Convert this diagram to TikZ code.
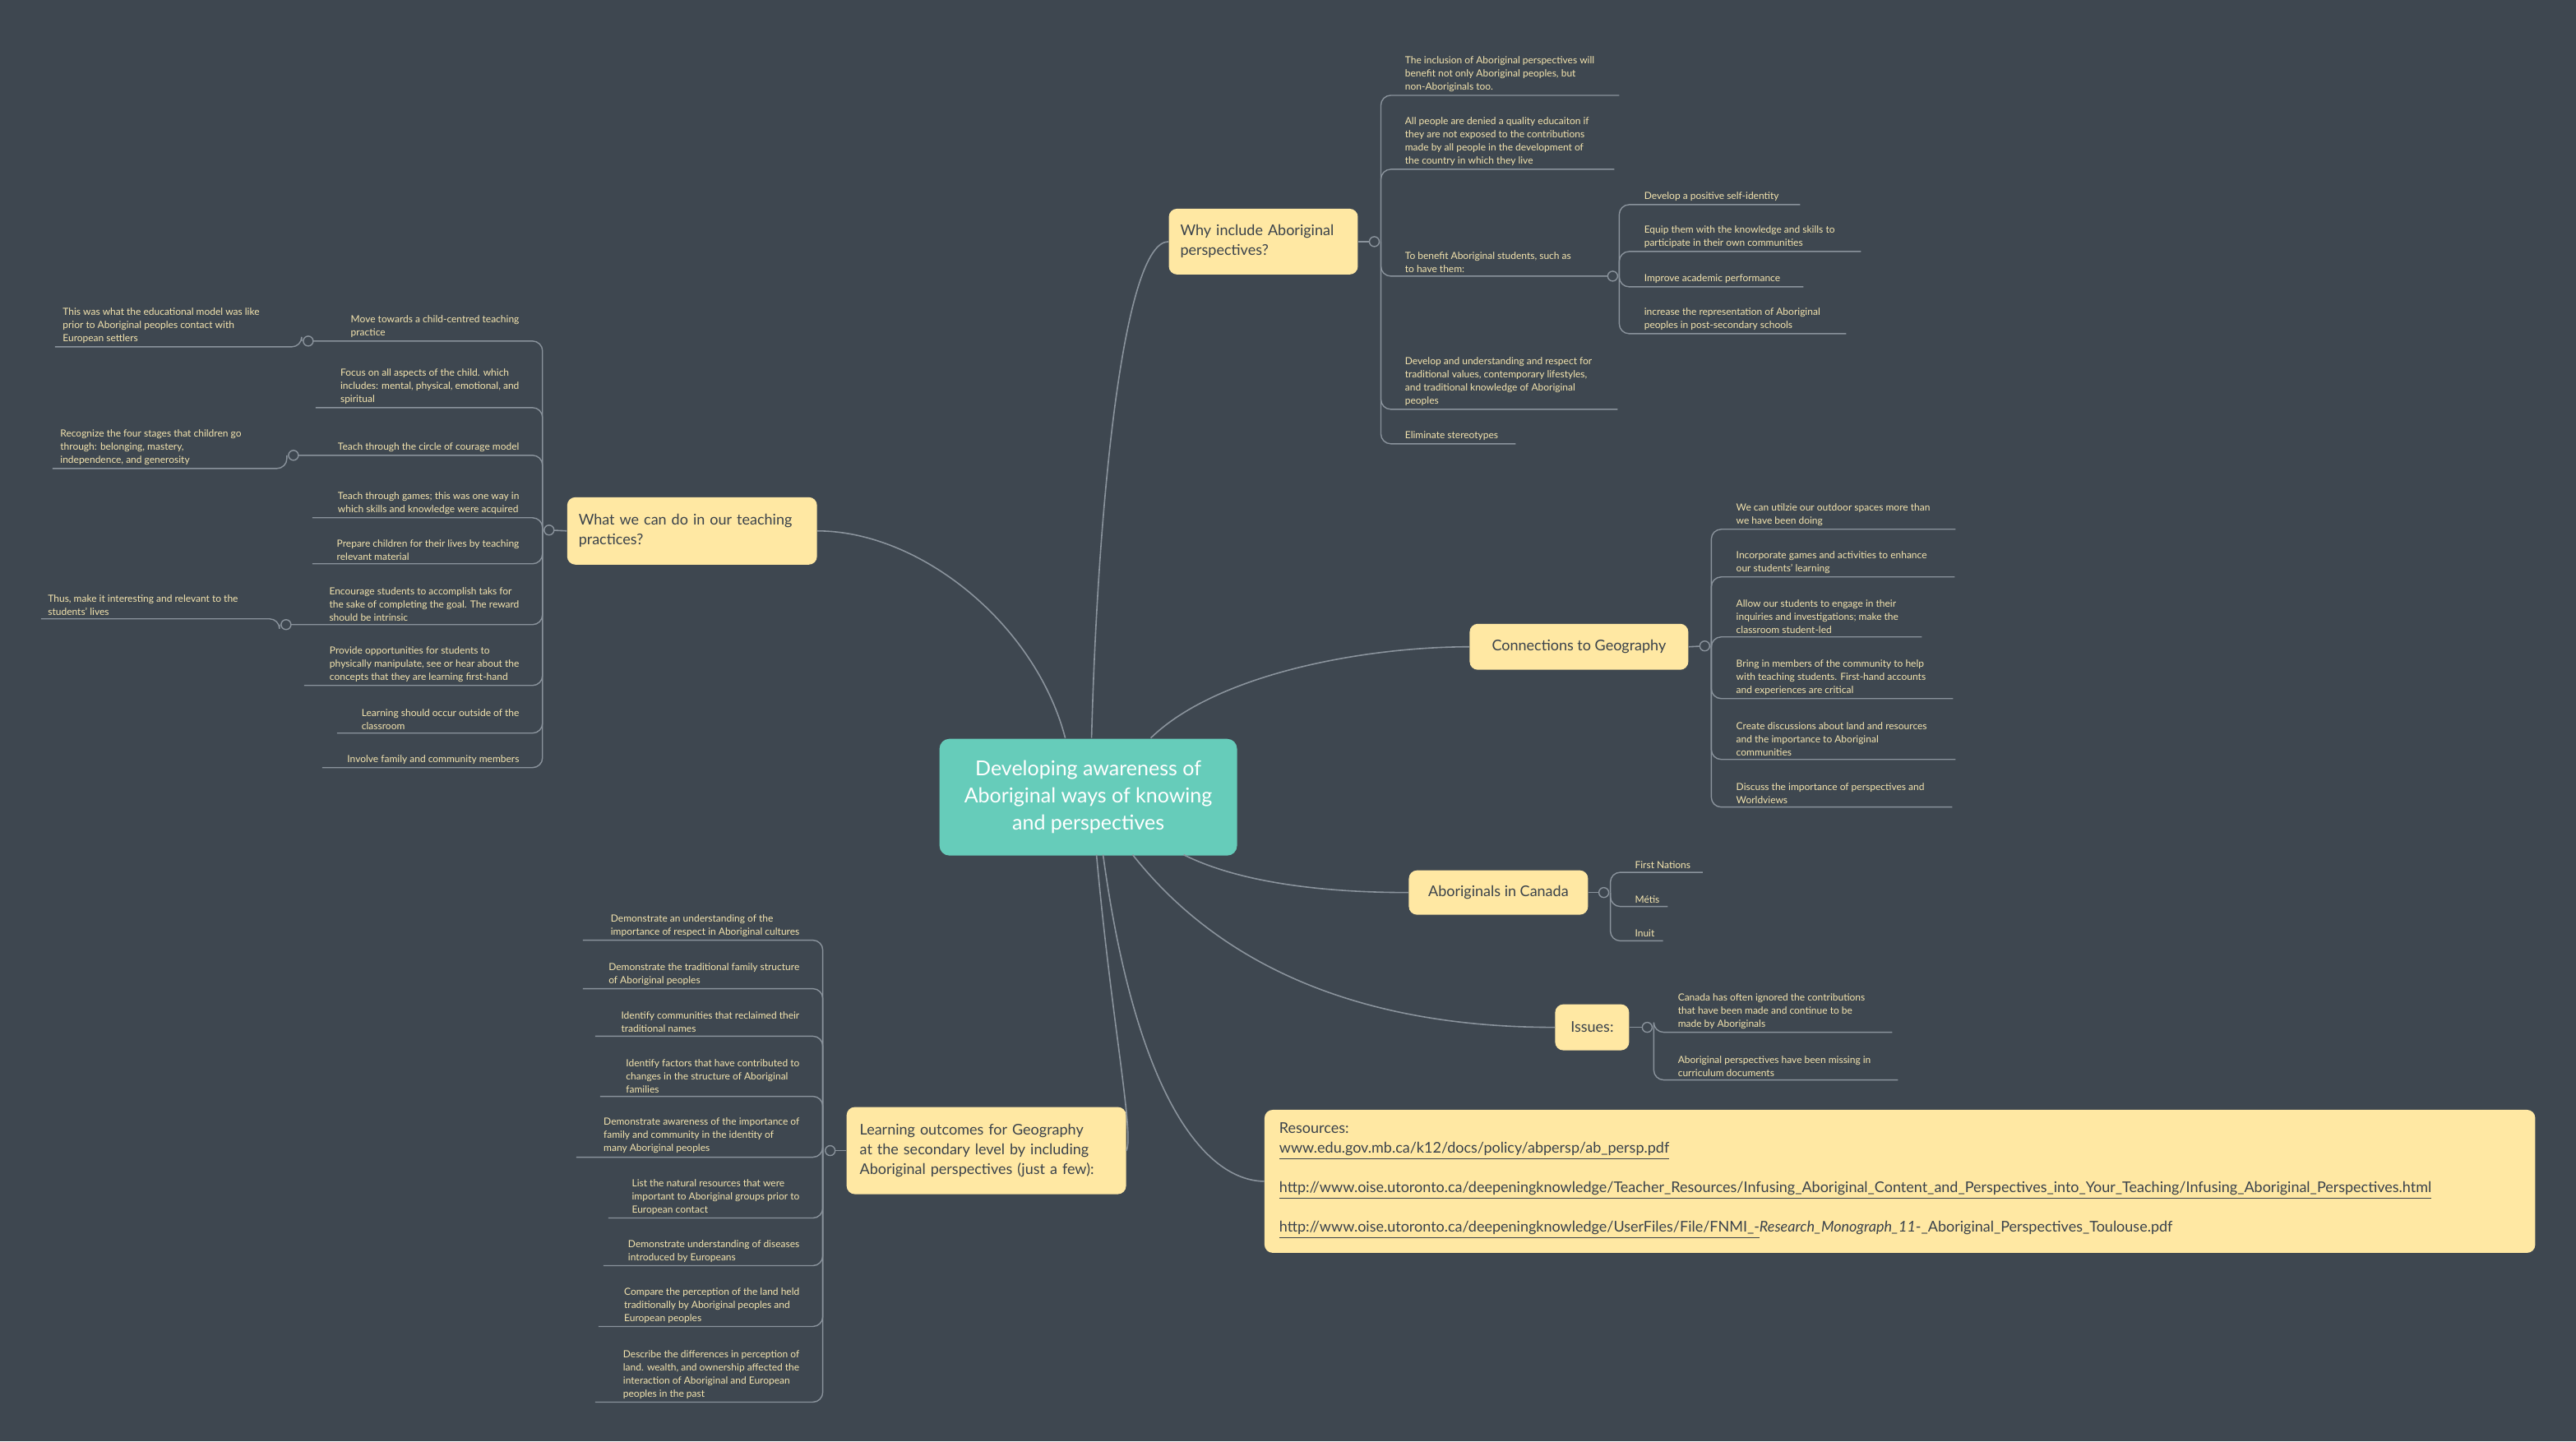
\documentclass[tikz,border=0pt]{standalone}
\usepackage{fontspec}
\setmainfont{Lato}
\definecolor{bg}{HTML}{3E4750}
\definecolor{ln}{HTML}{8A939C}
\definecolor{lf}{HTML}{F4E4AE}
\definecolor{yb}{HTML}{FFE8A3}
\definecolor{tl}{HTML}{66CCBA}
\definecolor{dk}{HTML}{3A424B}
\tikzset{
 br/.style={draw=ln,line width=0.7pt,rounded corners=6pt},
 mainln/.style={draw=ln,line width=0.8pt},
 leaf/.style={text=lf,inner sep=0pt,align=left,font=\fontsize{6}{8}\selectfont},
 hubc/.style={circle,draw=ln,fill=bg,line width=0.7pt,inner sep=0pt,minimum size=6pt},
 ybox/.style={fill=yb,rounded corners=5pt,text=dk,font=\fontsize{9}{12}\selectfont,inner sep=0pt,align=left},
}
% right leaf: trunk x, hub y, line y, right end, text x, text
\newcommand\RL[6]{\draw[br] (#1,#2) |- (#4,#3); \node[leaf,anchor=south west] at (#5,#3-2) {#6};}
% left leaf: trunk x, hub y, line y, left end, text anchor, text x, text
\newcommand\LL[7]{\draw[br] (#1,#2) |- (#4,#3); \node[leaf,anchor=#5] at (#6,#3-2) {#7};}
\begin{document}
\begin{tikzpicture}[x=1pt,y=-1pt]
\fill[bg] (0,0) rectangle (1567,877);
\useasboundingbox (0,0) rectangle (1567,877);
% boxes
\node[fill=tl,rounded corners=6pt,minimum width=181pt,minimum height=71pt,text=white,align=center,font=\fontsize{12.5}{16.4}\selectfont,inner sep=0pt] (c) at (662,485) {Developing awareness of\\Aboriginal ways of knowing\\and perspectives};
\node[ybox,minimum width=115pt,minimum height=40pt,text width=101pt] (why) at (768.5,147) {Why include Aboriginal\\perspectives?};
\node[ybox,minimum width=152pt,minimum height=41pt,text width=138pt] (what) at (421,323) {What we can do in our teaching\\practices?};
\node[ybox,minimum width=133pt,minimum height=28pt,align=center] (conn) at (960.5,393.5) {Connections to Geography};
\node[ybox,minimum width=109pt,minimum height=27pt,align=center] (can) at (911.5,543) {Aboriginals in Canada};
\node[ybox,minimum width=45pt,minimum height=28pt,align=center] (iss) at (968.5,625) {Issues:};
\node[ybox,minimum width=170pt,minimum height=53pt,text width=154pt] (lrn) at (600,700) {Learning outcomes for Geography\\at the secondary level by including\\Aboriginal perspectives (just a few):};
\node[ybox,minimum width=773pt,minimum height=87pt,anchor=north west] (res) at (769,675) {};
\node[text=dk,inner sep=0pt,anchor=north west,align=left,font=\fontsize{9}{12}\selectfont] (rest) at (778,683) {Resources:\\
\underline{www.edu.gov.mb.ca/k12/docs/policy/abpersp/ab\_persp.pdf}\\[12pt]
\underline{http://www.oise.utoronto.ca/deepeningknowledge/Teacher\_Resources/Infusing\_Aboriginal\_Content\_and\_Perspectives\_into\_Your\_Teaching/Infusing\_Aboriginal\_Perspectives.html}\\[12pt]
\underline{http://www.oise.utoronto.ca/deepeningknowledge/UserFiles/File/FNMI\_-}\textit{Research\_Monograph\_11}-\_Aboriginal\_Perspectives\_Toulouse.pdf};
% main connectors
\draw[mainln] (664,449) .. controls (668,300) and (684,147) .. (why.west);
\draw[mainln] (648,449) .. controls (630,380) and (560,323) .. (what.east);
\draw[mainln] (700,449) .. controls (740,410) and (830,393.5) .. (conn.west);
\draw[mainln] (720,520) .. controls (760,540) and (820,543) .. (can.west);
\draw[mainln] (689,520) .. controls (760,610) and (870,625) .. (iss.west);
\draw[mainln] (667,520) .. controls (676,620) and (690,690) .. (lrn.east);
\draw[mainln] (671,520) .. controls (690,660) and (730,718) .. (res.west);
% hubs coordinates
\coordinate (hW) at (836,147);
\coordinate (hS) at (981,168);
\coordinate (hL) at (334,322.5);
\coordinate (hL1) at (187.5,207.5);
\coordinate (hL3) at (178.5,277);
\coordinate (hL6) at (174,380);
\coordinate (hB) at (505,700);
\coordinate (hC) at (1037,393);
\coordinate (hK) at (975.6,543);
\coordinate (hI) at (1002,625);
\draw[mainln] (why.east) -- (hW);
\draw[mainln] (what.west) -- (hL);
\draw[mainln] (lrn.west) -- (hB);
\draw[mainln] (conn.east) -- (hC);
\draw[mainln] (can.east) -- (hK);
\draw[mainln] (iss.east) -- (hI);
% Why leaves
\RL{840}{147}{58}{985}{854.5}{The inclusion of Aboriginal perspectives will\\benefit not only Aboriginal peoples, but\\non-Aboriginals too.}
\RL{840}{147}{103}{982}{854.5}{All people are denied a quality educaiton if\\they are not exposed to the contributions\\made by all people in the development of\\the country in which they live}
\RL{840}{147}{168}{978}{854.5}{To benefit Aboriginal students, such as\\to have them:}
\RL{840}{147}{249}{984}{854.5}{Develop and understanding and respect for\\traditional values, contemporary lifestyles,\\and traditional knowledge of Aboriginal\\peoples}
\RL{840}{147}{270}{922}{854.5}{Eliminate stereotypes}
\RL{985}{168}{124.5}{1095}{1000}{Develop a positive self-identity}
\RL{985}{168}{153}{1132}{1000}{Equip them with the knowledge and skills to\\participate in their own communities}
\RL{985}{168}{174.5}{1097}{1000}{Improve academic performance}
\RL{985}{168}{203}{1123}{1000}{increase the representation of Aboriginal\\peoples in post-secondary schools}
% Connections leaves
\RL{1041}{393}{322}{1189.5}{1056}{We can utilzie our outdoor spaces more than\\we have been doing}
\RL{1041}{393}{351}{1189}{1056}{Incorporate games and activities to enhance\\our students' learning}
\RL{1041}{393}{387.5}{1169}{1056}{Allow our students to engage in their\\inquiries and investigations; make the\\classroom student-led}
\RL{1041}{393}{425}{1188}{1056}{Bring in members of the community to help\\with teaching students. First-hand accounts\\and experiences are critical}
\RL{1041}{393}{462}{1189.5}{1056}{Create discussions about land and resources\\and the importance to Aboriginal\\communities}
\RL{1041}{393}{491}{1187.5}{1056}{Discuss the importance of perspectives and\\Worldviews}
% Canada
\RL{979.6}{543}{530.7}{1035.7}{994.4}{First Nations}
\RL{979.6}{543}{551.5}{1014.5}{994.4}{Métis}
\RL{979.6}{543}{572.4}{1011.6}{994.4}{Inuit}
% Issues
\RL{1006}{625}{628}{1151}{1020.5}{Canada has often ignored the contributions\\that have been made and continue to be\\made by Aboriginals}
\RL{1006}{625}{657}{1154.5}{1020.5}{Aboriginal perspectives have been missing in\\curriculum documents}
% Left leaves
\LL{330}{322.5}{207.5}{190.5}{south east}{316}{Move towards a child-centred teaching\\practice}
\LL{330}{322.5}{248}{192}{south east}{316}{Focus on all aspects of the child. which\\includes: mental, physical, emotional, and\\spiritual}
\LL{330}{322.5}{277}{181.5}{south east}{316}{Teach through the circle of courage model}
\LL{330}{322.5}{315}{190}{south east}{316}{Teach through games; this was one way in\\which skills and knowledge were acquired}
\LL{330}{322.5}{343}{190}{south east}{316}{Prepare children for their lives by teaching\\relevant material}
\LL{330}{322.5}{380}{177}{south east}{316}{Encourage students to accomplish taks for\\the sake of completing the goal. The reward\\should be intrinsic}
\LL{330}{322.5}{417}{185}{south east}{316}{Provide opportunities for students to\\physically manipulate, see or hear about the\\concepts that they are learning first-hand}
\LL{330}{322.5}{446}{205}{south east}{316}{Learning should occur outside of the\\classroom}
\LL{330}{322.5}{467}{196}{south east}{316}{Involve family and community members}
\LL{183.5}{207.5}{211}{33.5}{south west}{38}{This was what the educational model was like\\prior to Aboriginal peoples contact with\\European settlers}
\LL{174.5}{277}{285}{32}{south west}{36.5}{Recognize the four stages that children go\\through: belonging, mastery,\\independence, and generosity}
\LL{170}{380}{376.5}{25}{south west}{29}{Thus, make it interesting and relevant to the\\students' lives}
% Bottom leaves
\LL{500.5}{700}{572}{354.5}{south east}{486.5}{Demonstrate an understanding of the\\importance of respect in Aboriginal cultures}
\LL{500.5}{700}{601.5}{354.5}{south east}{486.5}{Demonstrate the traditional family structure\\of Aboriginal peoples}
\LL{500.5}{700}{630.4}{362}{south east}{486.5}{Identify communities that reclaimed their\\traditional names}
\LL{500.5}{700}{667}{365}{south east}{486.5}{Identify factors that have contributed to\\changes in the structure of Aboriginal\\families}
\LL{500.5}{700}{704}{350.5}{south east}{486.5}{Demonstrate awareness of the importance of\\family and community in the identity of\\many Aboriginal peoples}
\LL{500.5}{700}{741}{370}{south east}{486.5}{List the natural resources that were\\important to Aboriginal groups prior to\\European contact}
\LL{500.5}{700}{770}{367}{south east}{486.5}{Demonstrate understanding of diseases\\introduced by Europeans}
\LL{500.5}{700}{807}{364}{south east}{486.5}{Compare the perception of the land held\\traditionally by Aboriginal peoples and\\European peoples}
\LL{500.5}{700}{853}{362}{south east}{486.5}{Describe the differences in perception of\\land. wealth, and ownership affected the\\interaction of Aboriginal and European\\peoples in the past}
% hub circles
\foreach \h in {hW,hS,hL,hL1,hL3,hL6,hB,hC,hK,hI} \node[hubc] at (\h) {};
\end{tikzpicture}
\end{document}
